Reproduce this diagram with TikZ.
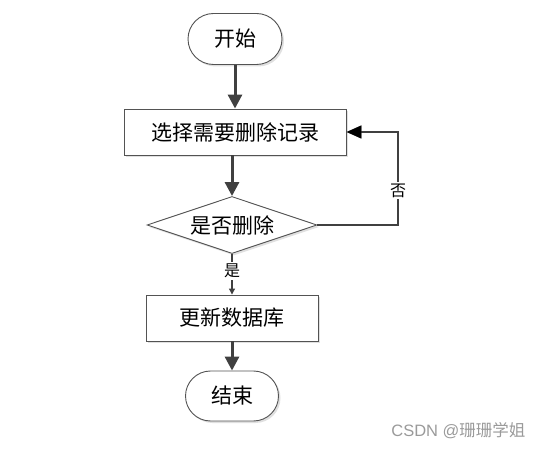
\documentclass[tikz,border=0pt]{standalone}
\usepackage{fontspec}
\newfontfamily\cjk{Noto Sans CJK SC}
\usetikzlibrary{arrows.meta,shapes.geometric,shapes.misc,shadows}
\definecolor{linegray}{HTML}{404040}
\definecolor{wmgray}{HTML}{9A9A9A}
\begin{document}
\begin{tikzpicture}[x=1pt,y=-1pt,
  base/.style={draw=linegray!90, line width=0.9pt, fill=white, text=black, font=\cjk\fontsize{21}{24}\selectfont, inner sep=0pt,
    drop shadow={shadow xshift=2pt, shadow yshift=-2pt, fill=black!12, opacity=1}},
  term/.style={base, rounded rectangle, minimum width=94pt, minimum height=51pt},
  procbox/.style={base, rectangle, minimum height=46pt},
  decide/.style={base, diamond, aspect=3, minimum width=170pt, minimum height=57pt},
  thickarrow/.style={draw=linegray, line width=3pt, -{Triangle[length=14pt,width=14pt]}},
  thinarrow/.style={draw=linegray, line width=1.4pt, -{Triangle[length=15pt,width=13pt]}},
  smallarrow/.style={draw=linegray, line width=1.2pt, -{Triangle[length=6pt,width=6pt]}},
  lab/.style={font=\cjk\fontsize{16}{18}\selectfont, fill=white, inner sep=2pt}
]
\useasboundingbox (0,0) rectangle (544,449);
\node[term] (start) at (235,39) {开始};
\node[procbox, minimum width=222pt] (select) at (235,132) {选择需要删除记录};
\node[decide] (ask) at (232,225) {是否删除};
\node[procbox, minimum width=172pt] (update) at (232,318) {更新数据库};
\node[term, minimum width=93pt, minimum height=50pt] (stop) at (232,396) {结束};
\coordinate (c1) at (398,225);
\coordinate (c2) at (398,132);
\draw[thickarrow] (start.south) -- (select.north);
\draw[thickarrow] (select.south -| ask.north) -- (ask.north);
\draw[thickarrow] (update.south) -- (stop.north);
\draw[smallarrow] (ask.south) -- node[lab, pos=0.42] (yes) {是} (update.north);
\draw[thinarrow] (ask.east) -- (c1) -- node[lab, pos=0.37] (no) {否} (c2) -- (select.east);
\fill[black] ([xshift=0.5pt]select.east) -- ([xshift=15pt,yshift=-6.5pt]select.east) -- ([xshift=15pt,yshift=6.5pt]select.east) -- cycle;
\node[font=\fontspec{Liberation Sans}\fontsize{16.5}{19}\selectfont, text=wmgray, anchor=east] (wm) at (529,431) {CSDN @{\cjk 珊珊学姐}};
\end{tikzpicture}
\end{document}
